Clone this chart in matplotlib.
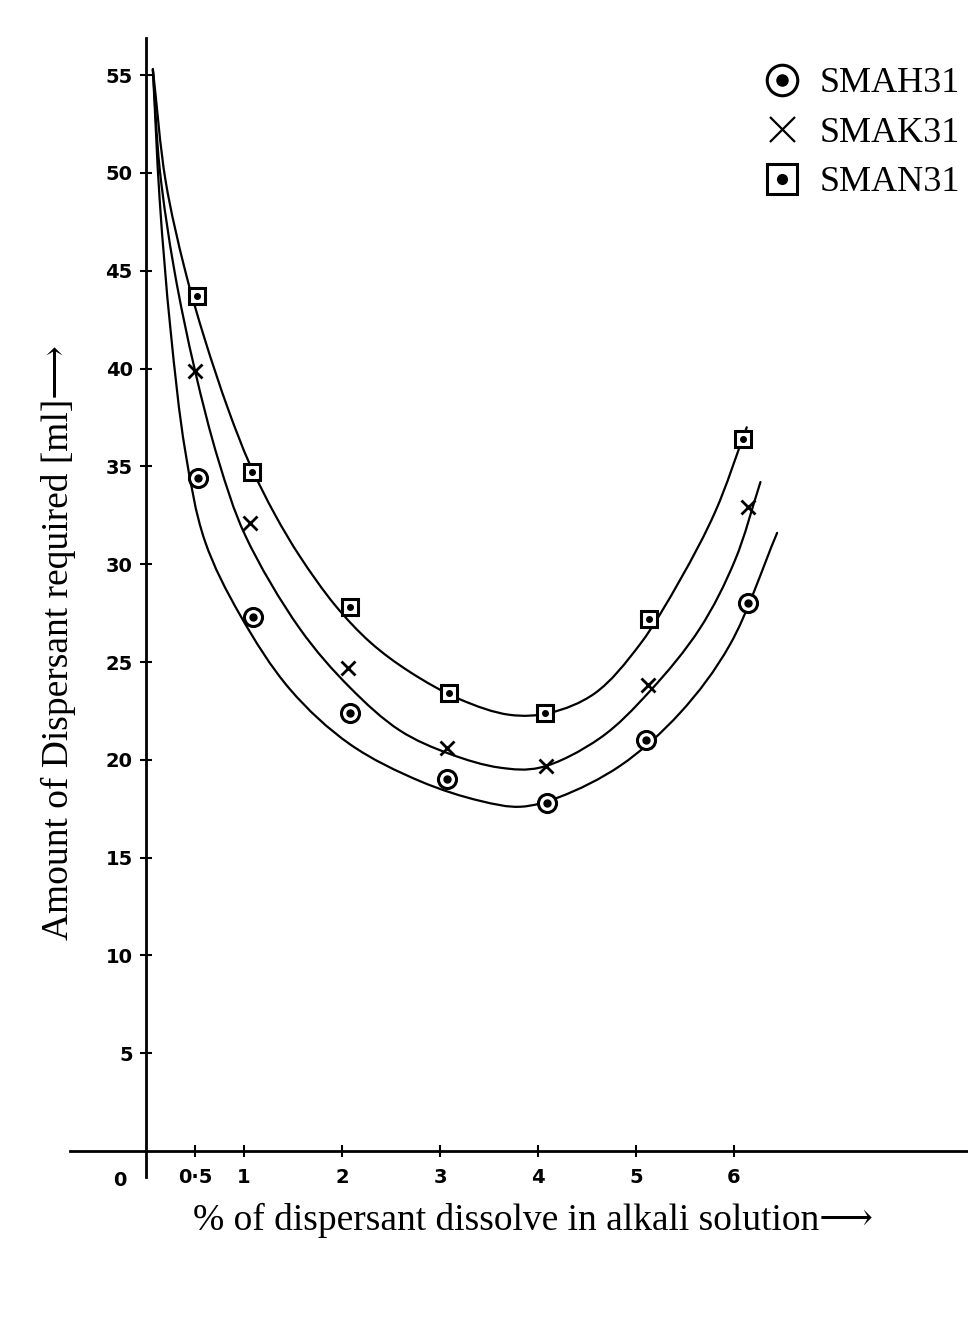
import numpy as np
import matplotlib.pyplot as plt
from matplotlib.path import Path
from matplotlib.patches import PathPatch
from matplotlib.lines import Line2D
from matplotlib.legend_handler import HandlerTuple

# ==========================================
# DATA
# ==========================================
series_names = ["SMAH31", "SMAK31", "SMAN31"]

# measured points
smah_x = [0.53, 1.09, 2.08, 3.07, 4.09, 5.10, 6.14]
smah_y = [34.4, 27.3, 22.4, 19.0, 17.8, 21.0, 28.0]
smak_x = [0.50, 1.06, 2.06, 3.07, 4.08, 5.12, 6.14]
smak_y = [39.9, 32.1, 24.7, 20.6, 19.7, 23.8, 32.9]
sman_x = [0.52, 1.08, 2.08, 3.09, 4.07, 5.13, 6.09]
sman_y = [43.7, 34.7, 27.8, 23.4, 22.4, 27.2, 36.4]

# hand drawn trend curves (trace points)
smah_cx = [0.07, 0.14, 0.25, 0.40, 0.60, 0.96, 1.47, 2.08, 2.80, 3.41, 3.82,
           4.22, 4.84, 5.45, 5.96, 6.44]
smah_cy = [55.3, 48.6, 42.0, 35.8, 31.2, 27.4, 23.6, 20.8, 18.9, 17.9, 17.6,
           18.1, 19.7, 22.4, 25.9, 31.6]
smak_cx = [0.07, 0.14, 0.29, 0.50, 0.74, 1.01, 1.57, 2.08, 2.59, 3.10,
           3.61, 4.02, 4.63, 5.14, 5.65, 6.01, 6.27]
smak_cy = [55.3, 50.2, 45.0, 39.9, 35.3, 31.5, 26.7, 23.7, 21.5, 20.3,
           19.6, 19.6, 21.1, 23.5, 26.7, 30.2, 34.2]
sman_cx = [0.07, 0.20, 0.40, 0.60, 0.84, 1.06, 1.32, 1.57, 1.93, 2.29, 2.69,
           3.20, 3.71, 4.12, 4.58, 5.04, 5.45, 5.81, 6.13]
sman_cy = [55.3, 49.6, 45.0, 41.5, 37.9, 35.1, 32.5, 30.4, 27.9, 26.0, 24.5,
           23.1, 22.3, 22.4, 23.4, 25.9, 29.2, 32.7, 37.0]

yticks = [5, 10, 15, 20, 25, 30, 35, 40, 45, 50, 55]
xticks = [0.5, 1, 2, 3, 4, 5, 6]
xtick_labels = ["0\u00b75", "1", "2", "3", "4", "5", "6"]

SERIF = ["Liberation Serif", "DejaVu Serif", "DejaVu Sans"]

# ==========================================
# FIGURE GEOMETRY
# ==========================================
W, H = 968, 1317
X0, Y0 = 146, 1151      # pixel position of the origin
SX, SY = 98.0, 19.56    # pixels per data unit


def smooth_path(xs, ys, alpha=0.5):
    """Centripetal Catmull-Rom through the knots, as cubic bezier path."""
    s = np.array([SX, SY])
    p = np.column_stack([xs, ys]).astype(float) * s
    p = np.vstack([2 * p[0] - p[1], p, 2 * p[-1] - p[-2]])
    verts = [p[1]]
    codes = [Path.MOVETO]
    for i in range(1, len(p) - 2):
        p0, p1, p2, p3 = p[i - 1], p[i], p[i + 1], p[i + 2]
        d0 = np.linalg.norm(p1 - p0) ** alpha
        d1 = np.linalg.norm(p2 - p1) ** alpha
        d2 = np.linalg.norm(p3 - p2) ** alpha
        m1 = d1 * ((p1 - p0) / d0 - (p2 - p0) / (d0 + d1) + (p2 - p1) / d1)
        m2 = d1 * ((p2 - p1) / d1 - (p3 - p1) / (d1 + d2) + (p3 - p2) / d2)
        verts += [p1 + m1 / 3, p2 - m2 / 3, p2]
        codes += [Path.CURVE4] * 3
    return Path(np.array(verts) / s, codes)


fig = plt.figure(figsize=(W / 100, H / 100), dpi=100)
ax = fig.add_axes([0, 0, 1, 1])
ax.set_xlim(-X0 / SX, (W - X0) / SX)
ax.set_ylim(-(H - Y0) / SY, Y0 / SY)

for side in ["top", "right"]:
    ax.spines[side].set_visible(False)
ax.spines["left"].set_position(("data", 0))
ax.spines["bottom"].set_position(("data", 0))
ax.spines["left"].set_bounds(-1.35, 56.9)
ax.spines["bottom"].set_bounds(-0.78, (W - X0) / SX)
for side in ["left", "bottom"]:
    ax.spines[side].set_linewidth(2.0)

ax.set_yticks(yticks)
ax.set_yticklabels([str(v) for v in yticks])
ax.set_xticks(xticks)
ax.set_xticklabels(xtick_labels)
ax.tick_params(axis="both", direction="inout", length=9, width=1.5,
               labelsize=14)
ax.tick_params(axis="y", pad=5)
ax.tick_params(axis="x", pad=8)
for lab in ax.get_xticklabels() + ax.get_yticklabels():
    lab.set_fontweight("bold")
ax.text(-0.27, -1.5, "0", ha="center", va="center", fontsize=14,
        fontweight="bold")

# curves
for cx, cy in [(smah_cx, smah_cy), (smak_cx, smak_cy), (sman_cx, sman_cy)]:
    ax.add_patch(PathPatch(smooth_path(cx, cy), facecolor="none",
                           edgecolor="black", lw=1.6, capstyle="round"))

# markers
ax.plot(smah_x, smah_y, "o", ms=13, mfc="white", mec="black", mew=2.2, zorder=3)
ax.plot(smah_x, smah_y, "o", ms=5, mfc="black", mec="black", zorder=4)
ax.plot(smak_x, smak_y, "x", ms=10, mec="black", mew=2, zorder=3)
ax.plot(sman_x, sman_y, "s", ms=12, mfc="white", mec="black", mew=2.2, zorder=3)
ax.plot(sman_x, sman_y, "o", ms=4, mfc="black", mec="black", zorder=4)

# axis labels
ax.text((533 - X0) / SX, (Y0 - 1220) / SY,
        "% of dispersant dissolve in alkali solution\u27f6",
        ha="center", va="center", fontsize=27, family=SERIF)
ax.text((58 - X0) / SX, (Y0 - 642) / SY,
        "Amount of Dispersant required [ml]\u27f6",
        ha="center", va="center", rotation=90, fontsize=27, family=SERIF)

# legend
h_circ = (Line2D([], [], ls="none", marker="o", ms=22, mfc="white",
                 mec="black", mew=2.2),
          Line2D([], [], ls="none", marker="o", ms=8, mfc="black", mec="black"))
h_x = Line2D([], [], ls="none", marker="x", ms=18, mec="black", mew=1.6)
h_sq = (Line2D([], [], ls="none", marker="s", ms=21, mfc="white",
               mec="black", mew=2.2),
        Line2D([], [], ls="none", marker="o", ms=7, mfc="black", mec="black"))
leg = ax.legend([h_circ, h_x, h_sq], series_names,
                handler_map={tuple: HandlerTuple(ndivide=1, pad=0)},
                loc="upper left", bbox_to_anchor=(760 / W, 1 - 67 / H),
                bbox_transform=fig.transFigure, frameon=False,
                handlelength=1.2, handletextpad=0.45, labelspacing=0.45,
                borderpad=0, borderaxespad=0,
                prop={"family": SERIF, "size": 26})

fig.savefig("out.png", dpi=100)
